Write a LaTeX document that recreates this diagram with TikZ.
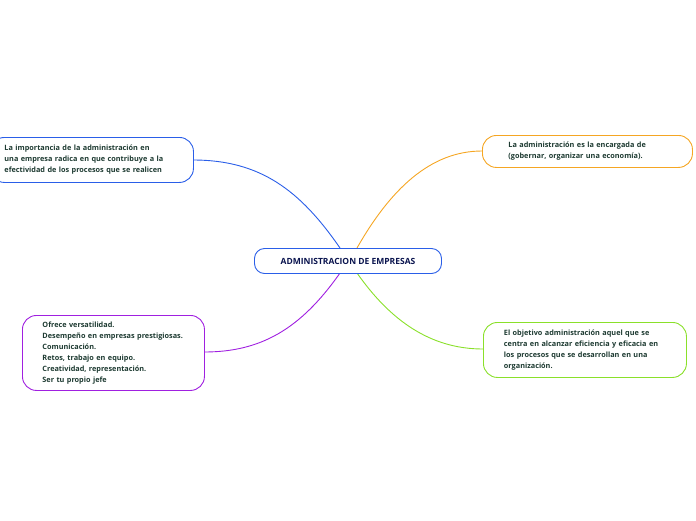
\documentclass[tikz,border=0pt]{standalone}
\usepackage{fontspec}
\setmainfont{Open Sans}
\begin{document}
\begin{tikzpicture}[x=1pt,y=-1pt,
  box/.style={draw,rounded corners=14pt,line width=0.9pt,fill=white,font=\fontsize{7.3}{11}\selectfont\bfseries,text=txt,align=left,anchor=north west,inner sep=0pt},
  conn/.style={line width=0.9pt}]
\definecolor{txt}{HTML}{1E3B32}
\definecolor{cblue}{HTML}{2A5EE8}
\definecolor{corange}{HTML}{F5A623}
\definecolor{cpurple}{HTML}{A020E0}
\definecolor{cgreen}{HTML}{8AE02A}
\path[use as bounding box] (0,0) rectangle (696,520);
\coordinate (ca) at (340,248);
\coordinate (cb) at (357,248);
\coordinate (cc) at (340,273);
\coordinate (cd) at (357,273);
\draw[conn,cblue] (ca) .. controls (300,190) and (260,160) .. (193,160);
\draw[conn,corange] (cb) .. controls (390,190) and (430,151) .. (482,151);
\draw[conn,cpurple] (cc) .. controls (300,330) and (260,352) .. (204,352);
\draw[conn,cgreen] (cd) .. controls (390,320) and (430,349) .. (483,349);
\node[box,draw=cblue,minimum width=203pt,minimum height=45pt,text width=195pt] (tl) at (-10,137) {\hspace*{10pt}La importancia de la administración en\\\hspace*{10pt}una empresa radica en que contribuye a la\\\hspace*{10pt}efectividad de los procesos que se realicen};
\node[box,draw=corange,minimum width=210pt,minimum height=32pt,text width=190pt] (tr) at (482,135) {\hspace*{16pt}La administración es la encargada de\\\hspace*{16pt}(gobernar, organizar una economía).};
\node[box,draw=cpurple,minimum width=182pt,minimum height=75pt,text width=170pt] (bl) at (22,315) {\hspace*{14pt}Ofrece versatilidad.\\\hspace*{14pt}Desempeño en empresas prestigiosas.\\\hspace*{14pt}Comunicación.\\\hspace*{14pt}Retos, trabajo en equipo.\\\hspace*{14pt}Creatividad, representación.\\\hspace*{14pt}Ser tu propio jefe};
\node[box,draw=cgreen,minimum width=203pt,minimum height=55pt,text width=190pt] (br) at (483,322) {\hspace*{14pt}El objetivo administración aquel que se\\\hspace*{14pt}centra en alcanzar eficiencia y eficacia en\\\hspace*{14pt}los procesos que se desarrollan en una\\\hspace*{14pt}organización.};
\node[draw=cblue,rounded corners=10pt,line width=0.9pt,fill=white,minimum width=187pt,minimum height=25pt,font=\fontsize{8.5}{10}\selectfont\bfseries,text=txt!60!blue!60!black] (c) at (348,261) {ADMINISTRACION DE EMPRESAS};
\end{tikzpicture}
\end{document}
